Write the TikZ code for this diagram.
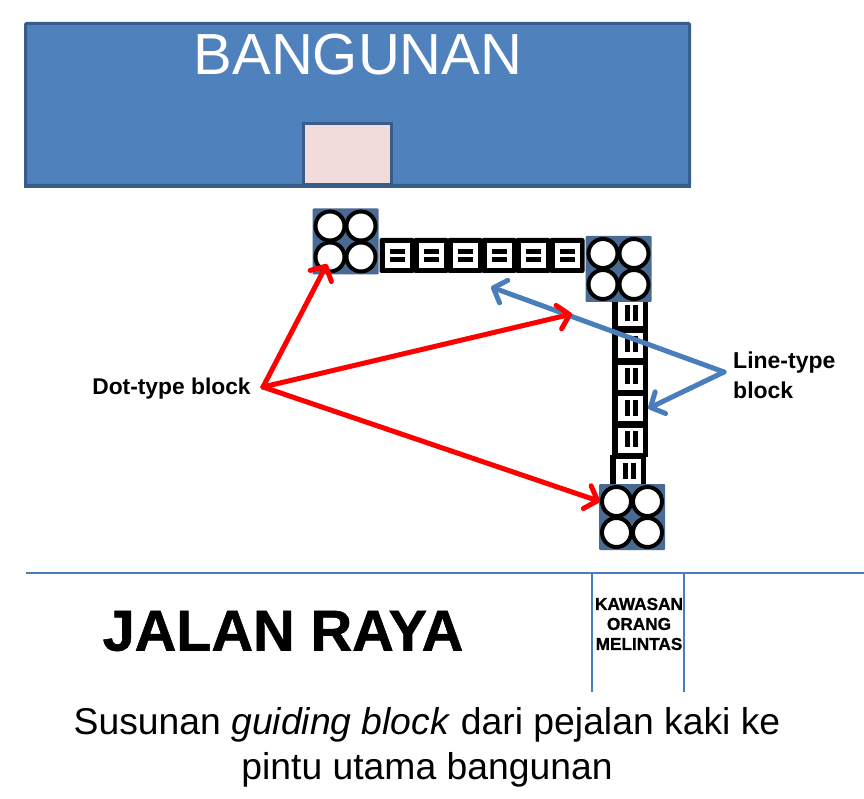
\documentclass[tikz,border=0pt]{standalone}
\usepackage{fontspec}
\setmainfont{Liberation Sans}
\newfontfamily\heavyfont{Liberation Sans}[UprightFont=* Bold, FakeBold=1]
\usepackage{xcolor}
\usetikzlibrary{positioning, arrows.meta}
\definecolor{bluefill}{HTML}{4F81BD}
\definecolor{blueedge}{HTML}{385D8A}
\definecolor{pinkfill}{HTML}{F2DCDB}
\definecolor{roadline}{HTML}{4A7EBB}
\begin{document}
\begin{tikzpicture}[
        x=1pt, y=-1pt,
        building/.style={draw=blueedge, fill=bluefill, line width=3pt, rounded corners=1pt, inner sep=0pt, minimum width=664pt, minimum height=162pt},
        door/.style={draw=blueedge, fill=pinkfill, line width=3pt, inner sep=0pt, minimum width=88pt, minimum height=61pt},
        dotblock/.style={fill=blueedge!92!white, rounded corners=1pt, inner sep=0pt, minimum size=66pt},
        dot/.style={circle, draw=black, fill=white, line width=4pt, inner sep=0pt, minimum size=29pt},
        tile/.style={fill=black, rounded corners=2pt, inner sep=0pt, minimum width=35pt, minimum height=35pt},
        vtile/.style={fill=black, inner sep=0pt, minimum width=36pt, minimum height=33pt},
        hole/.style={fill=white, inner sep=0pt, minimum width=25pt, minimum height=25pt},
        hbar/.style={fill=black, inner sep=0pt, minimum width=15pt, minimum height=5pt},
        vbar/.style={fill=black, inner sep=0pt, minimum width=5pt, minimum height=16pt},
        redarrow/.style={draw=red, line width=5pt, line cap=round, -{Straight Barb[length=11pt, width=24pt, line width=5pt, round]}},
        bluearrow/.style={draw=roadline, line width=5pt, line cap=round, -{Straight Barb[length=11pt, width=24pt, line width=5pt, round]}},
        road/.style={draw=roadline, line width=1.5pt},
        label/.style={inner sep=0pt, align=center}
    ]
    \useasboundingbox (0,0) rectangle (864,799);

    % --- Building ---
    \node[building] (B) at (357.5,104.5) {};
    \node[door] (door) at (347,154) {};
    \draw[blueedge, line width=3pt] (B.south west) -- (B.south east);
    \node[label, text=white, font=\fontsize{58}{58}\selectfont] (title) at (358,55) {BANGUNAN};

    % --- Line-type tiles, horizontal ---
    \foreach \i/\x in {1/397, 2/431, 3/465, 4/499, 5/533, 6/567} {
        \node[tile] (h\i) at (\x,255.5) {};
        \node[hole] (hw\i) at (h\i) {};
        \node[hbar] (ha\i) at (\x,251.7) {};
        \node[hbar] (hb\i) at (\x,260) {};
    }

    % --- Line-type tiles, vertical ---
    \foreach \i/\x/\y in {1/630/314, 2/630/345, 3/630/377, 4/630/408.5, 5/630/440, 6/628/471.5} {
        \node[vtile] (v\i) at (\x,\y) {};
        \node[hole] (vw\i) at (\x,\y) {};
        \node[vbar] (va\i) at (\x-2.5,\y-1) {};
        \node[vbar] (vb\i) at (\x+5,\y-1) {};
    }

    % --- Dot-type blocks ---
    \foreach \n/\x/\y in {p/345.5/241.5, q/618.5/269, r/632/517} {
        \node[dotblock] (\n) at (\x,\y) {};
        \node[dot] (\n a) at (\x-15.5,\y-15.5) {};
        \node[dot] (\n b) at (\x+15.5,\y-15.5) {};
        \node[dot] (\n c) at (\x-15.5,\y+15.5) {};
        \node[dot] (\n d) at (\x+15.5,\y+15.5) {};
    }

    % --- Labels ---
    \node[label, font=\fontsize{22.8}{27}\selectfont\bfseries] (dottype) at (171.5,389) {Dot-type block};
    \node[label, align=left, font=\fontsize{23}{30}\selectfont\bfseries, anchor=west] (linetype) at (733,375) {Line-type\\block};
    \coordinate (redstart) at (263,387);
    \coordinate (bluestart) at (724,372);
    \coordinate (bluetop) at (491,287);
    \coordinate (redmid) at (572,314);
    \coordinate (redtop) at (327,264);

    % --- Arrows ---
    \draw[bluearrow] (bluestart) -- (bluetop);
    \draw[bluearrow] (bluestart) -- (v4.east);
    \draw[redarrow] (redstart) -- (redtop);
    \draw[redarrow] (redstart) -- (redmid);
    \draw[redarrow] (redstart) -- (ra.west);

    % --- Road ---
    \coordinate (roadL) at (26,573);
    \coordinate (roadR) at (864,573);
    \coordinate (crossAt) at (592,573);
    \coordinate (crossAb) at (592,692);
    \coordinate (crossBt) at (684,573);
    \coordinate (crossBb) at (684,692);
    \draw[road] (roadL) -- (roadR);
    \draw[road] (crossAt) -- (crossAb);
    \draw[road] (crossBt) -- (crossBb);
    \node[label, font=\fontsize{57.6}{57.6}\selectfont\heavyfont] (jalan) at (283,631) {JALAN RAYA};
    \node[label, font=\fontsize{17.2}{20}\selectfont\heavyfont] (cross) at (639,624) {KAWASAN\\ORANG\\MELINTAS};

    % --- Caption ---
    \node[label, font=\fontsize{37.3}{45}\selectfont] (caption) at (427,747) {Susunan \textit{guiding block} dari pejalan kaki ke\\pintu utama bangunan};
\end{tikzpicture}
\end{document}
